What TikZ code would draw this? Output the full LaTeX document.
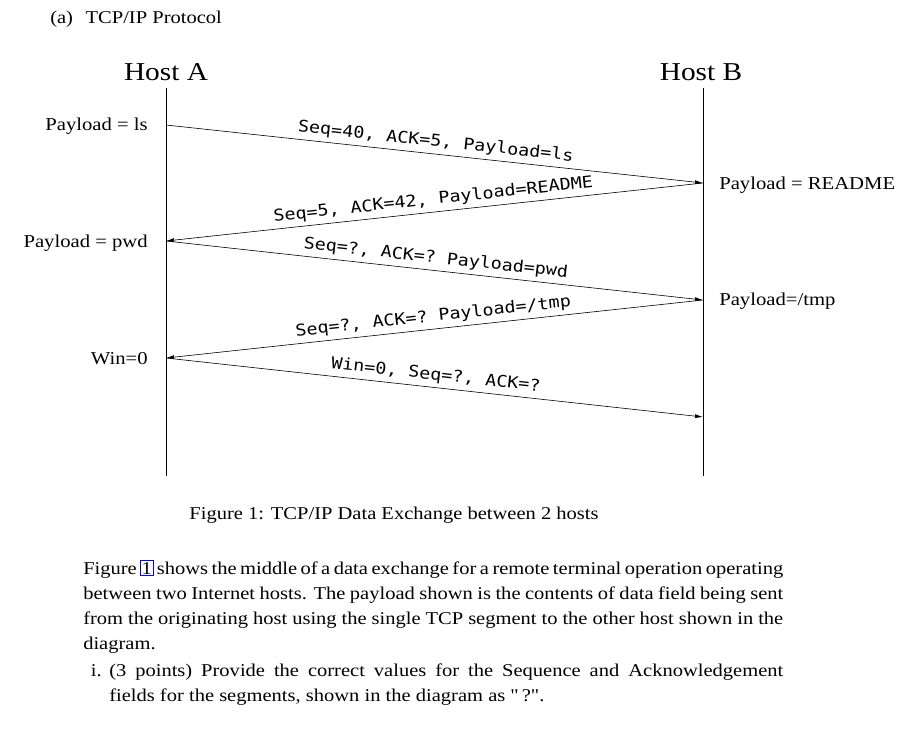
\documentclass[tikz,border=0pt]{standalone}
\usepackage{fontspec}
\setmainfont{Liberation Serif}[FakeStretch=1.14]
\setmonofont{DejaVu Sans Mono}[FakeStretch=1.14]
\usetikzlibrary{arrows.meta}

\newcommand{\linkbox}[1]{{\fboxsep=0.8pt\fboxrule=0.6pt\fcolorbox{blue}{white}{#1}}}
\newcommand{\plainquote}{{\addfontfeature{Ligatures=TeXOff}"}}

\begin{document}
\begin{tikzpicture}[x=0.75pt,y=-0.75pt,
    msg/.style={-{Latex[length=6pt,width=3pt]},line width=0.45pt},
    seglabel/.style={font=\fontsize{12.1}{14}\selectfont\ttfamily,sloped,above,inner sep=3pt},
    side/.style={font=\fontsize{13.6}{16}\selectfont,inner sep=0pt},
    host/.style={font=\fontsize{19.3}{22}\selectfont,inner sep=0pt},
    body/.style={font=\fontsize{13.5}{18.75}\selectfont,inner sep=0pt}]
\useasboundingbox (0,0) rectangle (906,736);
\node[body,anchor=base west] (part) at (50,23) {(a)\hspace{0.7em}TCP/IP Protocol};
\node[host,anchor=base] (hostA) at (166,80) {Host A};
\node[host,anchor=base] (hostB) at (701,80) {Host B};
% lifelines
\coordinate (topA) at (166,88);
\coordinate (botA) at (166,476);
\coordinate (topB) at (703,88);
\coordinate (botB) at (703,476);
\draw[line width=0.7pt] (topA) -- (botA);
\draw[line width=0.7pt] (topB) -- (botB);
\coordinate (a1) at (166,125);
\coordinate (b1) at (703,183);
\coordinate (a2) at (166,241);
\coordinate (b2) at (703,300);
\coordinate (a3) at (166,358);
\coordinate (b3) at (703,417);
% segments
\draw[msg] (a1) -- node[seglabel] {Seq=40, ACK=5, Payload=ls} (b1);
\draw[msg] (b1) -- node[seglabel] {Seq=5, ACK=42, Payload=README} (a2);
\draw[msg] (a2) -- node[seglabel] {Seq=?, ACK=? Payload=pwd} (b2);
\draw[msg] (b2) -- node[seglabel] {Seq=?, ACK=? Payload=/tmp} (a3);
\draw[msg] (a3) -- node[seglabel] {Win=0, Seq=?, ACK=?} (b3);
% payload notes
\node[side,anchor=base east] (noteA1) at (148,130) {Payload = ls};
\node[side,anchor=base east] (noteA2) at (148,247) {Payload = pwd};
\node[side,anchor=base east] (noteA3) at (148,364) {Win=0};
\node[side,anchor=base west] (noteB1) at (719,189) {Payload = README};
\node[side,anchor=base west] (noteB2) at (719,305) {Payload=/tmp};
% caption and text
\node[body,anchor=base] (caption) at (394,519) {Figure 1: TCP/IP Data Exchange between 2 hosts};
\node[body,anchor=base west,text width=525pt,align=justify] (para) at (83,574)
  {Figure\,\linkbox{1}\,shows the middle of a data exchange for a remote terminal operation operating\linebreak
   between two Internet hosts. The payload shown is the contents of data field being sent\linebreak
   from the originating host using the single TCP segment to the other host shown in the\linebreak
   diagram.};
\node[body,anchor=base east] (itemno) at (102,676) {i.};
\node[body,anchor=base west,text width=505.5pt,align=justify] (item) at (109,676)
  {(3 points) Provide the correct values for the Sequence and Acknowledgement\linebreak
   fields for the segments, shown in the diagram as \plainquote\,?\plainquote.};
\end{tikzpicture}
\end{document}
